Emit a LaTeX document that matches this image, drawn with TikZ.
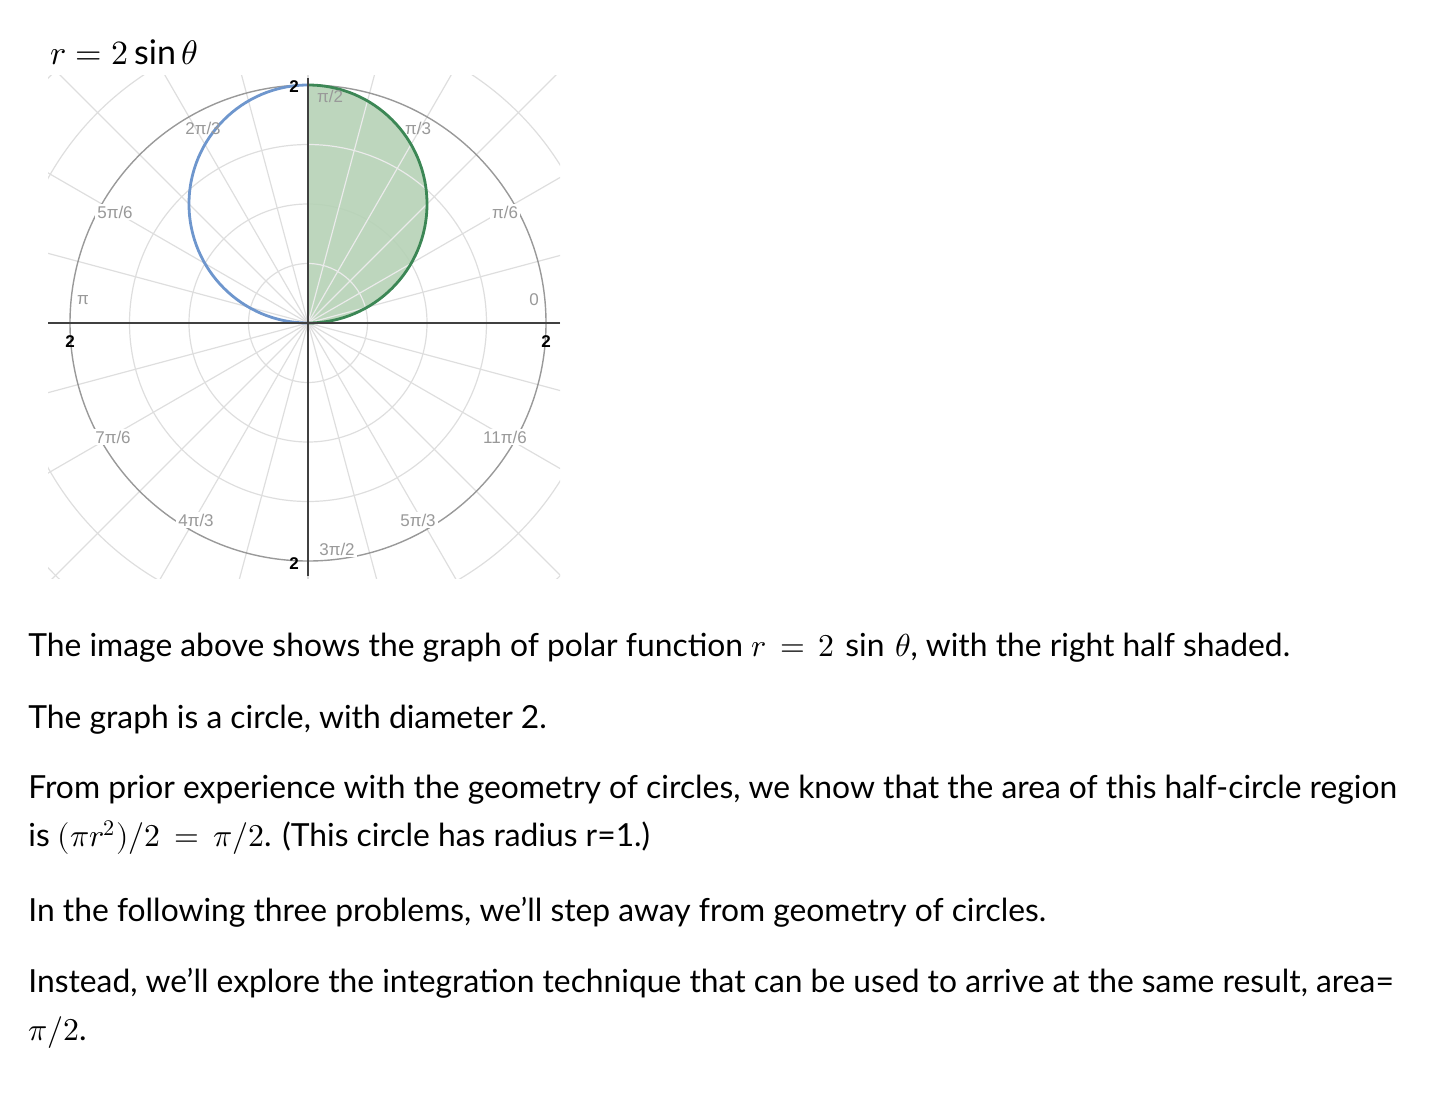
\documentclass[tikz,border=0pt]{standalone}
\usepackage{fontspec}
\setmainfont{Lato}
\newfontfamily\arialf{Liberation Sans}
\usepackage{unicode-math}
\setmathfont{Latin Modern Math}
\definecolor{cblue}{RGB}{110,150,205}
\definecolor{cgreen}{RGB}{60,135,85}
\definecolor{cfill}{RGB}{182,210,182}
\begin{document}
\begin{tikzpicture}[x=0.5pt,y=-0.5pt,
  grid/.style={draw=black!13,line width=0.6pt},
  lbl/.style={text=black!40,font=\arialf\fontsize{8.5}{9}\selectfont,inner sep=1pt,fill=white},
  two/.style={font=\arialf\bfseries\fontsize{8.5}{9}\selectfont,inner sep=0pt},
  para/.style={anchor=west,font=\fontsize{15.9}{24}\selectfont,inner sep=0pt,align=left}]
\useasboundingbox (0,0) rectangle (1444,1114);
\coordinate (O) at (308,323);
\begin{scope}
\clip (48,75) rectangle (560,578);
\foreach \r in {59.5,119,178.5,297.5,357,416.5} \draw[grid] (O) circle[radius=\r];
\foreach \a in {0,15,...,345} \draw[grid] (O) -- ++(-\a:500);
\draw[black!40,line width=0.7pt] (O) circle[radius=238];
\end{scope}
% shaded half
\fill[fill=cfill, fill opacity=0.9] (O) arc[start angle=90,end angle=-90,radius=119] -- cycle;
\begin{scope}
\clip (O) arc[start angle=90,end angle=-90,radius=119] -- cycle;
\foreach \r in {59.5,178.5} \draw[black!8,line width=0.6pt] (O) circle[radius=\r];
\foreach \a in {15,30,...,75} \draw[black!8,line width=0.6pt] (O) -- ++(-\a:300);
\end{scope}
\draw[draw=cblue, line width=1.4pt] (308,85) arc[start angle=-90,end angle=-270,radius=119];
\draw[draw=cgreen, line width=1.4pt] (O) arc[start angle=90,end angle=-90,radius=119];
\draw[black!75,line width=1pt] (48,323) -- (560,323);
\draw[black!75,line width=1pt] (308,78) -- (308,576);
% labels
\node[lbl] (l0) at (534,300) {0};
\node[lbl] (l1) at (505,212) {π/6};
\node[lbl,fill=none] (l2) at (418,128) {π/3};
\node[lbl,fill=none] (l3) at (330,96) {π/2};
\node[lbl,fill=none] (l4) at (203,128) {2π/3};
\node[lbl] (l5) at (115,212) {5π/6};
\node[lbl] (l6) at (83,300) {π};
\node[lbl] (l7) at (113,437) {7π/6};
\node[lbl] (l8) at (196,520) {4π/3};
\node[lbl] (l9) at (337,549) {3π/2};
\node[lbl] (l10) at (418,520) {5π/3};
\node[lbl] (l11) at (505,437) {11π/6};
\node[two] (t1) at (70,342) {2};
\node[two] (t2) at (546,342) {2};
\node[two] (t3) at (294,87) {2};
\node[two] (t4) at (294,564) {2};
\node[anchor=west,inner sep=0pt,font=\fontsize{17}{20}\selectfont] (title) at (50,52) {$r = 2\sin\theta$};
\node[para] (p1) at (28,648) {The image above shows the graph of polar function $r\,=\,2\,\sin\,\theta$, with the right half shaded.};
\node[para] (p2) at (28,720) {The graph is a circle, with diameter 2.};
\node[para] (p3) at (28,815) {From prior experience with the geometry of circles, we know that the area of this half-circle region\\is $(\pi r^2)/2\,=\,\pi/2$. (This circle has radius r=1.)};
\node[para] (p4) at (28,912) {In the following three problems, we'll step away from geometry of circles.};
\node[para] (p5) at (28,1008) {Instead, we'll explore the integration technique that can be used to arrive at the same result, area=\\$\pi/2$.};
\end{tikzpicture}
\end{document}
